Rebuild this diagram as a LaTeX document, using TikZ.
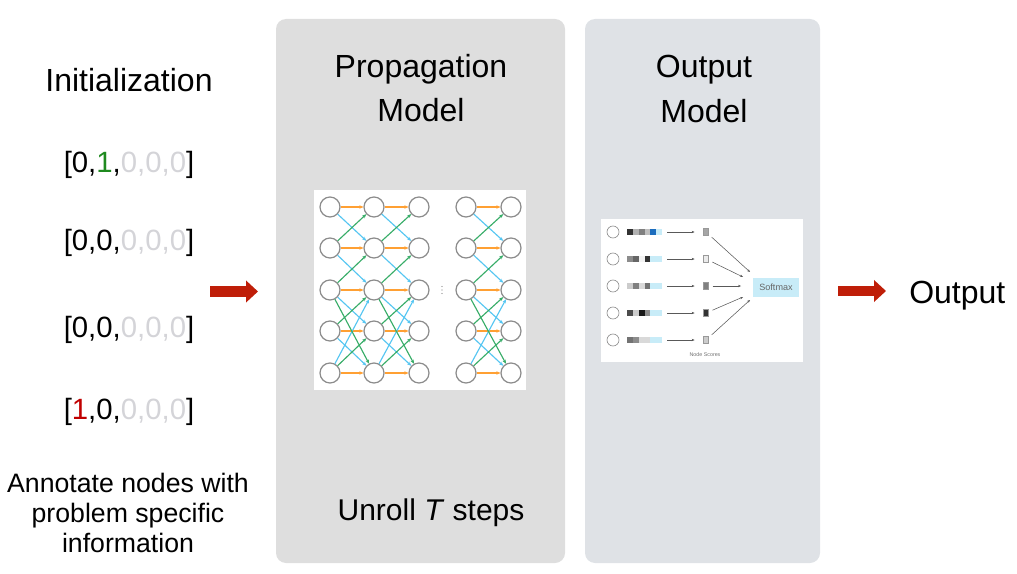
\documentclass[tikz,border=0pt]{standalone}
\usepackage{fontspec}
\setmainfont{Liberation Sans}
\usetikzlibrary{arrows.meta}

\definecolor{propgray}{HTML}{DEDEDE}
\definecolor{outgray}{HTML}{DFE2E6}
\definecolor{arrowred}{HTML}{BF1E08}
\definecolor{onegreen}{HTML}{1F8A1F}
\definecolor{onered}{HTML}{C00000}
\definecolor{zerogray}{HTML}{D4D4D8}
\definecolor{lorange}{HTML}{FFA033}
\definecolor{lblue}{HTML}{55C6F2}
\definecolor{lgreen}{HTML}{38AD68}
\definecolor{cellcyan}{HTML}{C8ECF8}
\definecolor{cellblue}{HTML}{1C6DBE}

\tikzset{
  headtext/.style={font=\fontsize{24}{28}\selectfont, anchor=base, inner sep=0pt},
  vectext/.style={font=\fontsize{22}{26}\selectfont, anchor=base, inner sep=0pt},
  bigarrow/.style={arrowred, line width=7.9pt, -{Triangle[length=9pt,width=16pt]}},
  gnode/.style={circle, draw=black!45, line width=0.9pt, minimum size=15pt, inner sep=0pt, fill=white},
  gedge/.style={line width=0.85pt, -{Stealth[length=3pt,width=2.6pt]}},
  onode/.style={circle, draw=black!45, line width=0.5pt, minimum size=9pt, inner sep=0pt},
  scorebox/.style={draw=black!40, line width=0.3pt, minimum width=3.8pt, minimum height=5pt, inner sep=0pt},
  thinarrow/.style={black!65, line width=0.4pt, -{Stealth[length=2.2pt,width=1.8pt]}}
}

\begin{document}
\begin{tikzpicture}[x=0.75pt, y=-0.75pt]
  \useasboundingbox (0,0) rectangle (1017,574);

  % panels
  \fill[propgray, rounded corners=7.5pt] (276,19) rectangle (565,563);
  \fill[outgray, rounded corners=7.5pt] (585,19) rectangle (820,563);

  % initialization
  \node[headtext] (init) at (129,92) {Initialization};
  \node[vectext] (v1) at (129,172) {[0,{\color{onegreen}1},{\color{zerogray}0,0,0}]};
  \node[vectext] (v2) at (129,250) {[0,0,{\color{zerogray}0,0,0}]};
  \node[vectext] (v3) at (129,337) {[0,0,{\color{zerogray}0,0,0}]};
  \node[vectext] (v4) at (129,419) {[{\color{onered}1},0,{\color{zerogray}0,0,0}]};
  \node[font=\fontsize{20}{22.5}\selectfont, align=center, anchor=north, inner sep=0pt] (note) at (128,473)
    {Annotate nodes with\\problem specific\\information};

  \coordinate (la) at (210,291.5);
  \coordinate (lb) at (258,291.5);
  \draw[bigarrow] (la) -- (lb);

  % propagation model
  \node[headtext] (ptitle) at (421,78) {Propagation};
  \node[headtext] (pmodel) at (421,122) {Model};
  \node[font=\fontsize{22.5}{26}\selectfont, anchor=base, inner sep=0pt] (unroll) at (431,520) {Unroll \textit{T} steps};

  \fill[white] (314,190) rectangle (526,390);
  \begin{scope}[every node/.style={gnode}]
    \foreach \c/\x in {1/330,2/374,3/419,4/466,5/511}
      \foreach \r/\y in {1/207,2/248,3/290,4/331,5/373}
        \node (p\c\r) at (\x,\y) {};
  \end{scope}
  \foreach \y in {286.5,290,293.5}
    \fill[black!50] (442,\y) circle (0.5pt);

  \foreach \a/\b in {1/2,2/3,4/5} {
    \foreach \r in {1,...,5}
      \draw[gedge, lorange] (p\a\r) -- (p\b\r);
    \foreach \u/\v in {1/2,2/3,3/4,4/5,5/3}
      \draw[gedge, lblue] (p\a\u) -- (p\b\v);
    \foreach \u/\v in {2/1,3/2,4/3,5/4,3/5}
      \draw[gedge, lgreen] (p\a\u) -- (p\b\v);
  }

  % output model
  \node[headtext] (otitle) at (704,78) {Output};
  \node[headtext] (omodel) at (704,123) {Model};

  \fill[white] (601,219) rectangle (803,362);
  \node[fill=cellcyan, minimum width=34.5pt, minimum height=14.25pt, inner sep=0pt,
        text=black!60, font=\fontsize{6.8}{8}\selectfont] (sm) at (776,287.5) {Softmax};
  \foreach \r/\y/\sc/\cells in {
      1/232/black!35/{black!80,black!30,black!50,black!25,cellblue,cellcyan},
      2/259/black!8/{black!45,black!60,black!5,black!80,cellcyan,cellcyan},
      3/286/black!50/{black!20,black!50,black!15,black!55,cellcyan,cellcyan},
      4/313/black!80/{black!70,black!20,black!90,black!45,cellcyan,cellcyan},
      5/340/black!20/{black!55,black!45,black!15,black!15,cellcyan,cellcyan}} {
    \node[onode] (o\r) at (613,\y) {};
    \foreach \col [count=\i] in \cells
      \fill[\col] ({627+(\i-1)*5.85},\y-3) rectangle ++(5.85,6);
    \coordinate (b\r) at (667,\y);
    \node[scorebox, fill=\sc] (s\r) at (706,\y) {};
    \draw[thinarrow, shorten >=6.5pt] (b\r) -- (s\r);
  }
  \foreach \r/\tx/\ty in {1/750/272,2/743/277,3/741/286,4/743/297,5/750/300} {
    \coordinate (t\r) at (\tx,\ty);
    \draw[thinarrow, shorten <=3pt] (s\r) -- (t\r);
  }
  \node[font=\fontsize{4}{5}\selectfont, text=black!55] (ns) at (705,355) {Node Scores};

  % output
  \coordinate (ra) at (838,291);
  \coordinate (rb) at (886,291);
  \draw[bigarrow] (ra) -- (rb);
  \node[headtext, anchor=base west] (out) at (909,303) {Output};

\end{tikzpicture}
\end{document}
